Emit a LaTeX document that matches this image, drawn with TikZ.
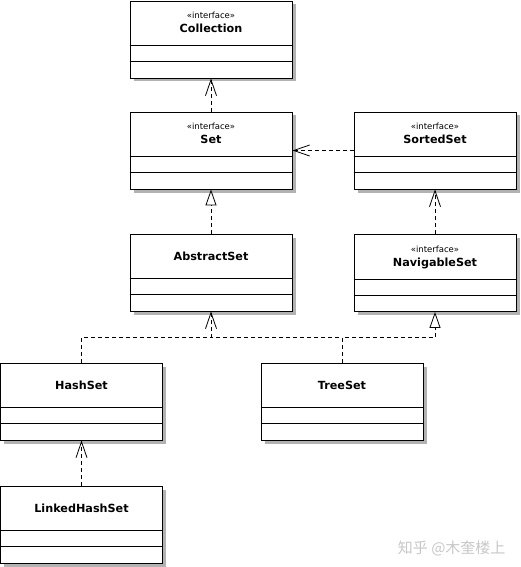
\documentclass[tikz,border=0pt]{standalone}
\usepackage{fontspec}
\setmainfont{DejaVu Sans}
\newfontfamily\cjk{Noto Sans CJK SC}
\usetikzlibrary{arrows.meta,shadows}

\tikzset{
	classbox/.style={draw, fill=white, line width=0.9pt, inner sep=0pt,
		minimum width=162pt, minimum height=77pt,
		drop shadow={shadow xshift=3.5pt, shadow yshift=-3.5pt, fill=black!30, opacity=1}},
	classname/.style={font=\fontsize{11.2}{13}\selectfont\bfseries, anchor=base},
	stereo/.style={font=\fontsize{8.5}{9}\selectfont, anchor=base},
	depend/.style={line width=0.8pt, dash pattern=on 4pt off 3pt,
		-{Straight Barb[length=16pt,width=11pt,line width=0.8pt]}},
	realize/.style={line width=0.8pt, dash pattern=on 4pt off 3pt,
		-{Triangle[open,length=16pt,width=11pt,line width=0.8pt,fill=white]}},
}

\begin{document}
\begin{tikzpicture}[x=1pt,y=-1pt]
		\useasboundingbox (0,0) rectangle (521,567);
		% classes
		\node[classbox] (coll) at (211,39.5) {};
		\node[classbox] (set) at (211,150.5) {};
		\node[classbox] (sorted) at (435,150.5) {};
		\node[classbox] (abs) at (211,272.5) {};
		\node[classbox] (nav) at (435,273) {};
		\node[classbox] (hash) at (81.5,401.5) {};
		\node[classbox] (tree) at (342,401.5) {};
		\node[classbox] (lhs) at (81.5,524.5) {};
		% compartments
		\foreach \c in {coll,set,sorted,abs,nav,hash,tree,lhs}{
			\draw[line width=0.9pt] ([yshift=-45pt]\c.north west) -- ([yshift=-45pt]\c.north east);
			\draw[line width=0.9pt] ([yshift=-61pt]\c.north west) -- ([yshift=-61pt]\c.north east);
		}
		% names
		\node[stereo] (coll-st) at ([yshift=-18pt]coll.north) {«interface»};
		\node[classname] (coll-nm) at ([yshift=-32pt]coll.north) {Collection};
		\node[stereo] (set-st) at ([yshift=-18pt]set.north) {«interface»};
		\node[classname] (set-nm) at ([yshift=-32pt]set.north) {Set};
		\node[stereo] (sorted-st) at ([yshift=-18pt]sorted.north) {«interface»};
		\node[classname] (sorted-nm) at ([yshift=-32pt]sorted.north) {SortedSet};
		\node[stereo] (nav-st) at ([yshift=-18pt]nav.north) {«interface»};
		\node[classname] (nav-nm) at ([yshift=-32pt]nav.north) {NavigableSet};
		\node[classname] (abs-nm) at ([yshift=-27pt]abs.north) {AbstractSet};
		\node[classname] (hash-nm) at ([yshift=-27pt]hash.north) {HashSet};
		\node[classname] (tree-nm) at ([yshift=-27pt]tree.north) {TreeSet};
		\node[classname] (lhs-nm) at ([yshift=-27pt]lhs.north) {LinkedHashSet};
		% relations
		\coordinate (j1) at (211,337.5);
		\coordinate (j2) at (435,337.5);
		\draw[depend] (set) -- (coll);
		\draw[depend] (sorted) -- (set);
		\draw[depend] (nav) -- (sorted);
		\draw[realize] (abs) -- (set);
		\draw[depend] (hash.north) |- (j1) -- (abs.south);
		\draw[line width=0.8pt, dash pattern=on 4pt off 3pt] (tree.north) |- (j1);
		\draw[realize] (tree.north) |- (j2) -- (nav.south);
		\draw[depend] (lhs) -- (hash);
		% watermark
		\node[font=\cjk\fontsize{15}{17}\selectfont, text=black!22, anchor=base east] (mark) at (509,553) {知乎 @木奎楼上};
\end{tikzpicture}
\end{document}
